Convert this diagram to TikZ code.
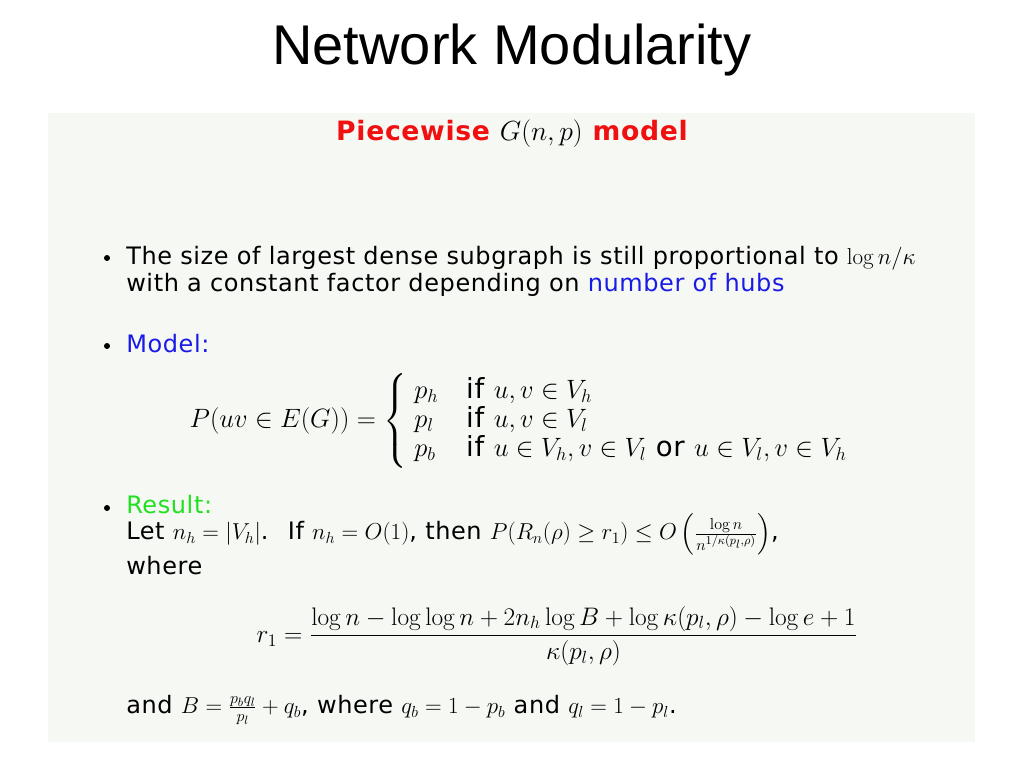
\documentclass[tikz,border=0pt]{standalone}
\usepackage{amsmath}
\usepackage[no-math]{fontspec}
\setmainfont[LetterSpace=2.5]{DejaVu Sans}
\newfontfamily\titlefont{Liberation Sans}
\definecolor{panel}{HTML}{F6F8F4}
\definecolor{myblue}{HTML}{1A1AE6}
\definecolor{myred}{HTML}{F01010}
\definecolor{mygreen}{HTML}{20E020}
\begin{document}
\begin{tikzpicture}[x=0.75pt,y=-0.75pt,
  txt/.style={anchor=west,inner sep=0pt,font=\fontsize{18}{22}\selectfont},
  bul/.style={circle,fill=black,inner sep=0pt,minimum size=4.5pt}]
\useasboundingbox (0,0) rectangle (1024,768);
\fill[white] (0,0) rectangle (1024,768);
\fill[panel] (48,113) rectangle (975,742);
\node[font=\titlefont\fontsize{42}{46}\selectfont] (title) at (512,50) {Network Modularity};
\node[font=\bfseries\fontsize{20}{24}\selectfont,text=myred] (sub) at (512,134) {Piecewise \textcolor{black}{$G(n,p)$} model};
\node[bul] (b1) at (107,258) {};
\node[txt] (t1) at (126,258) {The size of largest dense subgraph is still proportional to $\log n/\kappa$};
\node[txt] (t1b) at (126,285) {with a constant factor depending on \textcolor{myblue}{number of hubs}};
\node[bul] (b2) at (107,346) {};
\node[txt,text=myblue] (t2) at (126,344) {Model:};
\node[txt,anchor=center,scale=1.15] (eq1) at (523,421) {$P(uv\in E(G)) = \left\{\begin{array}{l@{\quad}l} p_h & \text{if } u,v\in V_h\\[-3pt] p_l & \text{if } u,v\in V_l\\[-3pt] p_b & \text{if } u\in V_h, v\in V_l \text{ or } u\in V_l, v\in V_h\end{array}\right.$};
\node[bul] (b3) at (107,508) {};
\node[txt,text=mygreen] (t3) at (126,505) {Result:};
\node[txt] (t4) at (126,534) {Let $n_h=|V_h|$. \ If $n_h=O(1)$, then $P(R_n(\rho)\ge r_1)\le O\left(\frac{\log n}{n^{1/\kappa(p_l,\rho)}}\right)$,};
\node[txt] (t5) at (126,566) {where};
\node[txt,anchor=center,scale=1.1] (eq2) at (557,636) {$r_1=\dfrac{\log n-\log\log n+2n_h\log B+\log\kappa(p_l,\rho)-\log e+1}{\kappa(p_l,\rho)}$};
\node[txt] (t6) at (126,710) {and $B=\frac{p_bq_l}{p_l}+q_b$, where $q_b=1-p_b$ and $q_l=1-p_l$.};
\end{tikzpicture}
\end{document}
